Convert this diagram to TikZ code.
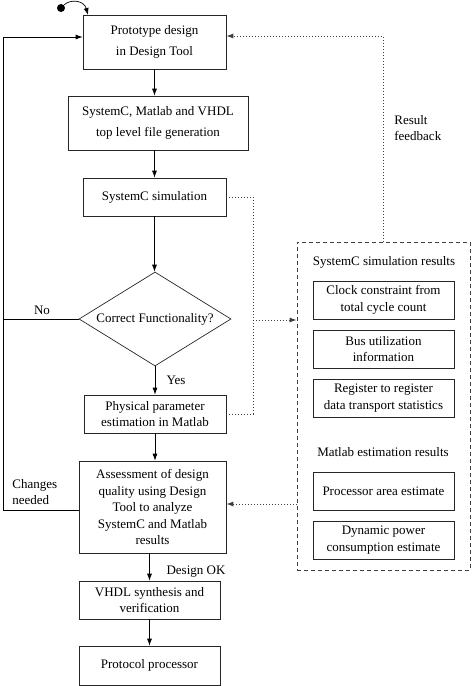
\documentclass[tikz,border=0pt]{standalone}
\usepackage{fontspec}
\setmainfont{Liberation Serif}
\usetikzlibrary{shapes.geometric,arrows.meta,calc}
\begin{document}
\begin{tikzpicture}[x=1pt,y=-1pt,
  font=\fontsize{13}{16.5}\selectfont,
  line width=0.7pt,
  box/.style={draw=black!85, rectangle, inner sep=0pt, align=center},
  lbl/.style={inner sep=0pt, align=left},
  arr/.style={-{Latex[length=7pt,width=5pt]}},
  dotln/.style={draw=black!75, line width=0.9pt, dash pattern=on 1pt off 2pt},
  dashbox/.style={draw=black!75, line width=0.8pt, dash pattern=on 4pt off 3pt, rectangle, inner sep=0pt}
]
\useasboundingbox (0,0) rectangle (474,686);

% main flow
\node[box, minimum width=143pt, minimum height=54pt] (b1) at (154.5,42) {Prototype design\\[4.5pt]in Design Tool};
\node[box, minimum width=180pt, minimum height=54pt] (b2) at (158,123) {SystemC, Matlab and VHDL\\[4.5pt]top level file generation};
\node[box, minimum width=143pt, minimum height=38pt] (b3) at (154.5,197) {SystemC simulation};
\node[draw=black!85, diamond, inner sep=0pt, aspect=1.6, minimum width=152pt, minimum height=94pt] (d) at (155,319) {Correct Functionality?};
\node[box, minimum width=142pt, minimum height=38pt] (b4) at (155,414) {Physical parameter\\estimation in Matlab};
\node[box, minimum width=147pt, minimum height=92pt] (b5) at (152.5,507) {Assessment of design\\quality using Design\\Tool to analyze\\SystemC and Matlab\\results};
\node[box, minimum width=141pt, minimum height=38pt] (b6) at (149.5,600) {VHDL synthesis and\\verification};
\node[box, minimum width=141pt, minimum height=39pt] (b7) at (149.5,665.5) {Protocol processor};

% start
\node[circle, fill=black, inner sep=0pt, minimum size=8pt] (start) at (61,8) {};
\coordinate (s1) at (88,15);
\draw[arr] (start) .. controls (70,-1) and (84,0) .. (s1);

% main arrows
\draw[arr] (b1.south) -- (b1.south |- b2.north);
\draw[arr] (b2.south -| b1.south) -- (b3.north);
\draw[arr] (b3.south) -- (b3.south |- d.north);
\draw[arr] (d.south) -- (d.south |- b4.north);
\draw[arr] (b4.south) -- (b4.south |- b5.north);
\draw[arr] (b5.south -| b6.north) -- (b6.north);
\draw[arr] (b6.south) -- (b7.north);

% left feedback loop
\coordinate (L1) at (3,510);
\coordinate (L2) at (3,37);
\draw[arr] (b5.west |- L1) -- (L1) -- (L2) -- (L2 -| b1.west);
\draw (d.west) -- (d.west -| L1);

% labels on flow
\node[lbl] (no) at (42,310) {No};
\node[lbl, anchor=west] (chg) at (12,492) {Changes\\needed};
\node[lbl] (yes) at (176,380) {Yes};
\node[lbl] (ok) at (196,572) {Design OK};
\node[lbl, anchor=west] (rf) at (394,128) {Result\\feedback};

% results box
\node[dashbox, minimum width=173pt, minimum height=328pt] (res) at (383.5,406) {};
\node[lbl] (t1) at (384,262) {SystemC simulation results};
\node[box, minimum width=141pt, minimum height=38pt] (i1) at (383.5,300) {Clock constraint from\\total cycle count};
\node[box, minimum width=141pt, minimum height=38pt] (i2) at (383.5,349) {Bus utilization\\information};
\node[box, minimum width=141pt, minimum height=38pt] (i3) at (383.5,398) {Register to register\\data transport statistics};
\node[lbl] (t2) at (383,452) {Matlab estimation results};
\node[box, minimum width=141pt, minimum height=38pt] (i4) at (383.5,491) {Processor area estimate};
\node[box, minimum width=141pt, minimum height=38pt] (i5) at (383.5,540) {Dynamic power\\consumption estimate};

% dotted connections
\coordinate (R1) at (383.5,36);
\draw[dotln, arr] (res.north) -- (R1) -- (R1 -| b1.east);
\coordinate (M) at (253,320);
\draw[dotln] (b3.east) -- (b3.east -| M) -- (b4.east -| M) -- (b4.east);
\draw[dotln, arr] (M) -- (M -| res.west);
\coordinate (A) at (297,504);
\draw[dotln, arr] (res.west |- A) -- (b5.east |- A);
\end{tikzpicture}
\end{document}
